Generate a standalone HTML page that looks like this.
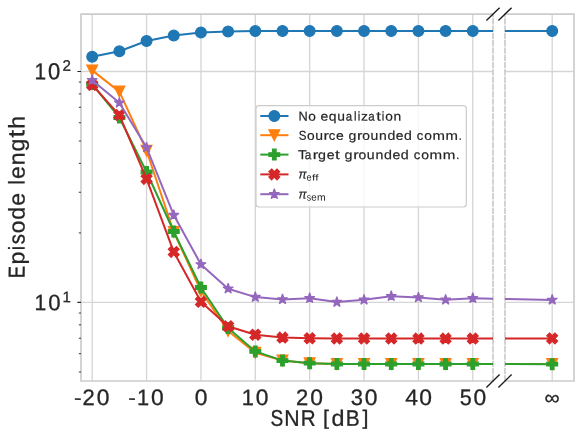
<!DOCTYPE html>
<html><head><meta charset="utf-8"><style>
html,body{margin:0;padding:0;background:#fff;width:582px;height:439px;overflow:hidden}
svg{display:block;font-family:"Liberation Sans",sans-serif;will-change:transform;text-rendering:geometricPrecision}
</style></head><body>
<svg width="582" height="439" viewBox="0 0 582 439">
<rect width="582" height="439" fill="#fff"/>
<defs><clipPath id="cl"><rect x="81.00" y="14.10" width="412.00" height="366.90"/></clipPath>
<clipPath id="cr"><rect x="505.00" y="14.10" width="69.00" height="366.90"/></clipPath></defs>
<path d="M92.20,14.1V381.0M146.57,14.1V381.0M200.94,14.1V381.0M255.31,14.1V381.0M309.68,14.1V381.0M364.05,14.1V381.0M418.42,14.1V381.0M472.79,14.1V381.0M81.0,302.45H493.0M81.0,71.50H493.0M552.2,14.1V381.0M505.0,302.45H574.0M505.0,71.50H574.0" stroke="#d5d5d5" stroke-width="1.3" fill="none"/>
<path d="M81.0,14.1H493.0M505.0,14.1H574.0M81.0,381.0H493.0M505.0,381.0H574.0M81.0,14.1V381.0M574.0,14.1V381.0" stroke="#cccccc" stroke-width="1.7" fill="none" stroke-linecap="square"/>
<path d="M493.0,381.0V14.1M505.0,381.0V14.1" stroke="#cccccc" stroke-width="1.7" stroke-dasharray="6.386 0.9" stroke-dashoffset="0.636" fill="none"/>
<path d="M77.40,302.45H81.0M77.40,71.50H81.0" stroke="#262626" stroke-width="1.2" fill="none"/>
<path d="M78.80,371.97H81.0M78.80,353.69H81.0M78.80,338.22H81.0M78.80,324.83H81.0M78.80,313.02H81.0M78.80,232.93H81.0M78.80,192.26H81.0M78.80,163.40H81.0M78.80,141.02H81.0M78.80,122.74H81.0M78.80,107.27H81.0M78.80,93.88H81.0M78.80,82.07H81.0" stroke="#262626" stroke-width="0.9" fill="none"/>
<g clip-path="url(#cl)">
<path d="M92.20,56.80L119.39,51.30L146.57,41.00L173.75,35.60L200.94,32.50L228.12,31.40L255.31,31.10L282.50,31.00L309.68,31.00L336.87,31.00L364.05,31.00L391.24,31.00L418.42,31.00L445.61,31.00L472.79,31.00L552.20,31.00" stroke="#1f77b4" stroke-width="2.0" fill="none" stroke-linejoin="round" stroke-linecap="butt"/>
<circle cx="92.20" cy="56.80" r="5.40" fill="#1f77b4" stroke="#1f77b4" stroke-width="1.2"/>
<circle cx="119.39" cy="51.30" r="5.40" fill="#1f77b4" stroke="#1f77b4" stroke-width="1.2"/>
<circle cx="146.57" cy="41.00" r="5.40" fill="#1f77b4" stroke="#1f77b4" stroke-width="1.2"/>
<circle cx="173.75" cy="35.60" r="5.40" fill="#1f77b4" stroke="#1f77b4" stroke-width="1.2"/>
<circle cx="200.94" cy="32.50" r="5.40" fill="#1f77b4" stroke="#1f77b4" stroke-width="1.2"/>
<circle cx="228.12" cy="31.40" r="5.40" fill="#1f77b4" stroke="#1f77b4" stroke-width="1.2"/>
<circle cx="255.31" cy="31.10" r="5.40" fill="#1f77b4" stroke="#1f77b4" stroke-width="1.2"/>
<circle cx="282.50" cy="31.00" r="5.40" fill="#1f77b4" stroke="#1f77b4" stroke-width="1.2"/>
<circle cx="309.68" cy="31.00" r="5.40" fill="#1f77b4" stroke="#1f77b4" stroke-width="1.2"/>
<circle cx="336.87" cy="31.00" r="5.40" fill="#1f77b4" stroke="#1f77b4" stroke-width="1.2"/>
<circle cx="364.05" cy="31.00" r="5.40" fill="#1f77b4" stroke="#1f77b4" stroke-width="1.2"/>
<circle cx="391.24" cy="31.00" r="5.40" fill="#1f77b4" stroke="#1f77b4" stroke-width="1.2"/>
<circle cx="418.42" cy="31.00" r="5.40" fill="#1f77b4" stroke="#1f77b4" stroke-width="1.2"/>
<circle cx="445.61" cy="31.00" r="5.40" fill="#1f77b4" stroke="#1f77b4" stroke-width="1.2"/>
<circle cx="472.79" cy="31.00" r="5.40" fill="#1f77b4" stroke="#1f77b4" stroke-width="1.2"/>
<circle cx="552.20" cy="31.00" r="5.40" fill="#1f77b4" stroke="#1f77b4" stroke-width="1.2"/>
<path d="M92.20,70.40L119.39,91.60L146.57,150.70L173.75,232.00L200.94,291.00L228.12,331.00L255.31,352.70L282.50,360.50L309.68,363.30L336.87,364.00L364.05,364.00L391.24,364.00L418.42,364.00L445.61,364.00L472.79,364.00L552.20,364.10" stroke="#ff7f0e" stroke-width="2.0" fill="none" stroke-linejoin="round" stroke-linecap="butt"/>
<path d="M86.80,65.00L97.60,65.00L92.20,75.80Z" fill="#ff7f0e" stroke="#ff7f0e" stroke-width="1.2" stroke-linejoin="miter"/>
<path d="M113.98,86.20L124.79,86.20L119.39,97.00Z" fill="#ff7f0e" stroke="#ff7f0e" stroke-width="1.2" stroke-linejoin="miter"/>
<path d="M141.17,145.30L151.97,145.30L146.57,156.10Z" fill="#ff7f0e" stroke="#ff7f0e" stroke-width="1.2" stroke-linejoin="miter"/>
<path d="M168.35,226.60L179.16,226.60L173.75,237.40Z" fill="#ff7f0e" stroke="#ff7f0e" stroke-width="1.2" stroke-linejoin="miter"/>
<path d="M195.54,285.60L206.34,285.60L200.94,296.40Z" fill="#ff7f0e" stroke="#ff7f0e" stroke-width="1.2" stroke-linejoin="miter"/>
<path d="M222.72,325.60L233.53,325.60L228.12,336.40Z" fill="#ff7f0e" stroke="#ff7f0e" stroke-width="1.2" stroke-linejoin="miter"/>
<path d="M249.91,347.30L260.71,347.30L255.31,358.10Z" fill="#ff7f0e" stroke="#ff7f0e" stroke-width="1.2" stroke-linejoin="miter"/>
<path d="M277.10,355.10L287.89,355.10L282.50,365.90Z" fill="#ff7f0e" stroke="#ff7f0e" stroke-width="1.2" stroke-linejoin="miter"/>
<path d="M304.28,357.90L315.08,357.90L309.68,368.70Z" fill="#ff7f0e" stroke="#ff7f0e" stroke-width="1.2" stroke-linejoin="miter"/>
<path d="M331.47,358.60L342.26,358.60L336.87,369.40Z" fill="#ff7f0e" stroke="#ff7f0e" stroke-width="1.2" stroke-linejoin="miter"/>
<path d="M358.65,358.60L369.45,358.60L364.05,369.40Z" fill="#ff7f0e" stroke="#ff7f0e" stroke-width="1.2" stroke-linejoin="miter"/>
<path d="M385.84,358.60L396.63,358.60L391.24,369.40Z" fill="#ff7f0e" stroke="#ff7f0e" stroke-width="1.2" stroke-linejoin="miter"/>
<path d="M413.02,358.60L423.82,358.60L418.42,369.40Z" fill="#ff7f0e" stroke="#ff7f0e" stroke-width="1.2" stroke-linejoin="miter"/>
<path d="M440.21,358.60L451.00,358.60L445.61,369.40Z" fill="#ff7f0e" stroke="#ff7f0e" stroke-width="1.2" stroke-linejoin="miter"/>
<path d="M467.39,358.60L478.19,358.60L472.79,369.40Z" fill="#ff7f0e" stroke="#ff7f0e" stroke-width="1.2" stroke-linejoin="miter"/>
<path d="M546.80,358.70L557.60,358.70L552.20,369.50Z" fill="#ff7f0e" stroke="#ff7f0e" stroke-width="1.2" stroke-linejoin="miter"/>
<path d="M92.20,84.00L119.39,117.50L146.57,172.00L173.75,231.50L200.94,287.50L228.12,328.00L255.31,351.40L282.50,360.60L309.68,363.20L336.87,364.00L364.05,364.00L391.24,364.00L418.42,364.00L445.61,364.00L472.79,364.00L552.20,364.20" stroke="#2ca02c" stroke-width="2.0" fill="none" stroke-linejoin="round" stroke-linecap="butt"/>
<path d="M90.40,78.60L94.00,78.60L94.00,82.20L97.60,82.20L97.60,85.80L94.00,85.80L94.00,89.40L90.40,89.40L90.40,85.80L86.80,85.80L86.80,82.20L90.40,82.20Z" fill="#2ca02c" stroke="#2ca02c" stroke-width="1.2"/>
<path d="M117.59,112.10L121.19,112.10L121.19,115.70L124.79,115.70L124.79,119.30L121.19,119.30L121.19,122.90L117.59,122.90L117.59,119.30L113.98,119.30L113.98,115.70L117.59,115.70Z" fill="#2ca02c" stroke="#2ca02c" stroke-width="1.2"/>
<path d="M144.77,166.60L148.37,166.60L148.37,170.20L151.97,170.20L151.97,173.80L148.37,173.80L148.37,177.40L144.77,177.40L144.77,173.80L141.17,173.80L141.17,170.20L144.77,170.20Z" fill="#2ca02c" stroke="#2ca02c" stroke-width="1.2"/>
<path d="M171.95,226.10L175.56,226.10L175.56,229.70L179.16,229.70L179.16,233.30L175.56,233.30L175.56,236.90L171.95,236.90L171.95,233.30L168.35,233.30L168.35,229.70L171.95,229.70Z" fill="#2ca02c" stroke="#2ca02c" stroke-width="1.2"/>
<path d="M199.14,282.10L202.74,282.10L202.74,285.70L206.34,285.70L206.34,289.30L202.74,289.30L202.74,292.90L199.14,292.90L199.14,289.30L195.54,289.30L195.54,285.70L199.14,285.70Z" fill="#2ca02c" stroke="#2ca02c" stroke-width="1.2"/>
<path d="M226.32,322.60L229.93,322.60L229.93,326.20L233.53,326.20L233.53,329.80L229.93,329.80L229.93,333.40L226.32,333.40L226.32,329.80L222.72,329.80L222.72,326.20L226.32,326.20Z" fill="#2ca02c" stroke="#2ca02c" stroke-width="1.2"/>
<path d="M253.51,346.00L257.11,346.00L257.11,349.60L260.71,349.60L260.71,353.20L257.11,353.20L257.11,356.80L253.51,356.80L253.51,353.20L249.91,353.20L249.91,349.60L253.51,349.60Z" fill="#2ca02c" stroke="#2ca02c" stroke-width="1.2"/>
<path d="M280.69,355.20L284.30,355.20L284.30,358.80L287.89,358.80L287.89,362.40L284.30,362.40L284.30,366.00L280.69,366.00L280.69,362.40L277.10,362.40L277.10,358.80L280.69,358.80Z" fill="#2ca02c" stroke="#2ca02c" stroke-width="1.2"/>
<path d="M307.88,357.80L311.48,357.80L311.48,361.40L315.08,361.40L315.08,365.00L311.48,365.00L311.48,368.60L307.88,368.60L307.88,365.00L304.28,365.00L304.28,361.40L307.88,361.40Z" fill="#2ca02c" stroke="#2ca02c" stroke-width="1.2"/>
<path d="M335.06,358.60L338.67,358.60L338.67,362.20L342.26,362.20L342.26,365.80L338.67,365.80L338.67,369.40L335.06,369.40L335.06,365.80L331.47,365.80L331.47,362.20L335.06,362.20Z" fill="#2ca02c" stroke="#2ca02c" stroke-width="1.2"/>
<path d="M362.25,358.60L365.85,358.60L365.85,362.20L369.45,362.20L369.45,365.80L365.85,365.80L365.85,369.40L362.25,369.40L362.25,365.80L358.65,365.80L358.65,362.20L362.25,362.20Z" fill="#2ca02c" stroke="#2ca02c" stroke-width="1.2"/>
<path d="M389.44,358.60L393.04,358.60L393.04,362.20L396.63,362.20L396.63,365.80L393.04,365.80L393.04,369.40L389.44,369.40L389.44,365.80L385.84,365.80L385.84,362.20L389.44,362.20Z" fill="#2ca02c" stroke="#2ca02c" stroke-width="1.2"/>
<path d="M416.62,358.60L420.22,358.60L420.22,362.20L423.82,362.20L423.82,365.80L420.22,365.80L420.22,369.40L416.62,369.40L416.62,365.80L413.02,365.80L413.02,362.20L416.62,362.20Z" fill="#2ca02c" stroke="#2ca02c" stroke-width="1.2"/>
<path d="M443.81,358.60L447.41,358.60L447.41,362.20L451.00,362.20L451.00,365.80L447.41,365.80L447.41,369.40L443.81,369.40L443.81,365.80L440.21,365.80L440.21,362.20L443.81,362.20Z" fill="#2ca02c" stroke="#2ca02c" stroke-width="1.2"/>
<path d="M470.99,358.60L474.59,358.60L474.59,362.20L478.19,362.20L478.19,365.80L474.59,365.80L474.59,369.40L470.99,369.40L470.99,365.80L467.39,365.80L467.39,362.20L470.99,362.20Z" fill="#2ca02c" stroke="#2ca02c" stroke-width="1.2"/>
<path d="M550.40,358.80L554.00,358.80L554.00,362.40L557.60,362.40L557.60,366.00L554.00,366.00L554.00,369.60L550.40,369.60L550.40,366.00L546.80,366.00L546.80,362.40L550.40,362.40Z" fill="#2ca02c" stroke="#2ca02c" stroke-width="1.2"/>
<path d="M92.20,84.90L119.39,115.10L146.57,178.90L173.75,251.90L200.94,301.80L228.12,326.30L255.31,334.70L282.50,337.60L309.68,338.30L336.87,338.50L364.05,338.50L391.24,338.50L418.42,338.60L445.61,338.60L472.79,338.60L552.20,338.40" stroke="#d62728" stroke-width="2.0" fill="none" stroke-linejoin="round" stroke-linecap="butt"/>
<path d="M89.50,79.50L92.20,82.20L94.90,79.50L97.60,82.20L94.90,84.90L97.60,87.60L94.90,90.30L92.20,87.60L89.50,90.30L86.80,87.60L89.50,84.90L86.80,82.20Z" fill="#d62728" stroke="#d62728" stroke-width="1.2"/>
<path d="M116.69,109.70L119.39,112.40L122.09,109.70L124.79,112.40L122.09,115.10L124.79,117.80L122.09,120.50L119.39,117.80L116.69,120.50L113.98,117.80L116.69,115.10L113.98,112.40Z" fill="#d62728" stroke="#d62728" stroke-width="1.2"/>
<path d="M143.87,173.50L146.57,176.20L149.27,173.50L151.97,176.20L149.27,178.90L151.97,181.60L149.27,184.30L146.57,181.60L143.87,184.30L141.17,181.60L143.87,178.90L141.17,176.20Z" fill="#d62728" stroke="#d62728" stroke-width="1.2"/>
<path d="M171.06,246.50L173.75,249.20L176.45,246.50L179.16,249.20L176.45,251.90L179.16,254.60L176.45,257.30L173.75,254.60L171.06,257.30L168.35,254.60L171.06,251.90L168.35,249.20Z" fill="#d62728" stroke="#d62728" stroke-width="1.2"/>
<path d="M198.24,296.40L200.94,299.10L203.64,296.40L206.34,299.10L203.64,301.80L206.34,304.50L203.64,307.20L200.94,304.50L198.24,307.20L195.54,304.50L198.24,301.80L195.54,299.10Z" fill="#d62728" stroke="#d62728" stroke-width="1.2"/>
<path d="M225.43,320.90L228.12,323.60L230.82,320.90L233.53,323.60L230.82,326.30L233.53,329.00L230.82,331.70L228.12,329.00L225.43,331.70L222.72,329.00L225.43,326.30L222.72,323.60Z" fill="#d62728" stroke="#d62728" stroke-width="1.2"/>
<path d="M252.61,329.30L255.31,332.00L258.01,329.30L260.71,332.00L258.01,334.70L260.71,337.40L258.01,340.10L255.31,337.40L252.61,340.10L249.91,337.40L252.61,334.70L249.91,332.00Z" fill="#d62728" stroke="#d62728" stroke-width="1.2"/>
<path d="M279.80,332.20L282.50,334.90L285.19,332.20L287.89,334.90L285.19,337.60L287.89,340.30L285.19,343.00L282.50,340.30L279.80,343.00L277.10,340.30L279.80,337.60L277.10,334.90Z" fill="#d62728" stroke="#d62728" stroke-width="1.2"/>
<path d="M306.98,332.90L309.68,335.60L312.38,332.90L315.08,335.60L312.38,338.30L315.08,341.00L312.38,343.70L309.68,341.00L306.98,343.70L304.28,341.00L306.98,338.30L304.28,335.60Z" fill="#d62728" stroke="#d62728" stroke-width="1.2"/>
<path d="M334.17,333.10L336.87,335.80L339.56,333.10L342.26,335.80L339.56,338.50L342.26,341.20L339.56,343.90L336.87,341.20L334.17,343.90L331.47,341.20L334.17,338.50L331.47,335.80Z" fill="#d62728" stroke="#d62728" stroke-width="1.2"/>
<path d="M361.35,333.10L364.05,335.80L366.75,333.10L369.45,335.80L366.75,338.50L369.45,341.20L366.75,343.90L364.05,341.20L361.35,343.90L358.65,341.20L361.35,338.50L358.65,335.80Z" fill="#d62728" stroke="#d62728" stroke-width="1.2"/>
<path d="M388.54,333.10L391.24,335.80L393.94,333.10L396.63,335.80L393.94,338.50L396.63,341.20L393.94,343.90L391.24,341.20L388.54,343.90L385.84,341.20L388.54,338.50L385.84,335.80Z" fill="#d62728" stroke="#d62728" stroke-width="1.2"/>
<path d="M415.72,333.20L418.42,335.90L421.12,333.20L423.82,335.90L421.12,338.60L423.82,341.30L421.12,344.00L418.42,341.30L415.72,344.00L413.02,341.30L415.72,338.60L413.02,335.90Z" fill="#d62728" stroke="#d62728" stroke-width="1.2"/>
<path d="M442.91,333.20L445.61,335.90L448.31,333.20L451.00,335.90L448.31,338.60L451.00,341.30L448.31,344.00L445.61,341.30L442.91,344.00L440.21,341.30L442.91,338.60L440.21,335.90Z" fill="#d62728" stroke="#d62728" stroke-width="1.2"/>
<path d="M470.09,333.20L472.79,335.90L475.49,333.20L478.19,335.90L475.49,338.60L478.19,341.30L475.49,344.00L472.79,341.30L470.09,344.00L467.39,341.30L470.09,338.60L467.39,335.90Z" fill="#d62728" stroke="#d62728" stroke-width="1.2"/>
<path d="M549.50,333.00L552.20,335.70L554.90,333.00L557.60,335.70L554.90,338.40L557.60,341.10L554.90,343.80L552.20,341.10L549.50,343.80L546.80,341.10L549.50,338.40L546.80,335.70Z" fill="#d62728" stroke="#d62728" stroke-width="1.2"/>
<path d="M92.20,80.20L119.39,102.80L146.57,147.50L173.75,215.10L200.94,264.40L228.12,288.70L255.31,297.10L282.50,299.40L309.68,298.20L336.87,302.10L364.05,299.80L391.24,296.20L418.42,297.50L445.61,299.80L472.79,298.20L552.20,299.90" stroke="#9467bd" stroke-width="2.0" fill="none" stroke-linejoin="round" stroke-linecap="butt"/>
<path d="M92.20,74.80L90.99,78.53L87.06,78.53L90.24,80.84L89.03,84.57L92.20,82.26L95.37,84.57L94.16,80.84L97.34,78.53L93.41,78.53Z" fill="#9467bd" stroke="#9467bd" stroke-width="1.2" stroke-linejoin="bevel"/>
<path d="M119.39,97.40L118.17,101.13L114.25,101.13L117.42,103.44L116.21,107.17L119.39,104.86L122.56,107.17L121.35,103.44L124.52,101.13L120.60,101.13Z" fill="#9467bd" stroke="#9467bd" stroke-width="1.2" stroke-linejoin="bevel"/>
<path d="M146.57,142.10L145.36,145.83L141.43,145.83L144.61,148.14L143.40,151.87L146.57,149.56L149.74,151.87L148.53,148.14L151.71,145.83L147.78,145.83Z" fill="#9467bd" stroke="#9467bd" stroke-width="1.2" stroke-linejoin="bevel"/>
<path d="M173.75,209.70L172.54,213.43L168.62,213.43L171.79,215.74L170.58,219.47L173.75,217.16L176.93,219.47L175.72,215.74L178.89,213.43L174.97,213.43Z" fill="#9467bd" stroke="#9467bd" stroke-width="1.2" stroke-linejoin="bevel"/>
<path d="M200.94,259.00L199.73,262.73L195.80,262.73L198.98,265.04L197.77,268.77L200.94,266.46L204.11,268.77L202.90,265.04L206.08,262.73L202.15,262.73Z" fill="#9467bd" stroke="#9467bd" stroke-width="1.2" stroke-linejoin="bevel"/>
<path d="M228.12,283.30L226.91,287.03L222.99,287.03L226.16,289.34L224.95,293.07L228.12,290.76L231.30,293.07L230.09,289.34L233.26,287.03L229.34,287.03Z" fill="#9467bd" stroke="#9467bd" stroke-width="1.2" stroke-linejoin="bevel"/>
<path d="M255.31,291.70L254.10,295.43L250.17,295.43L253.35,297.74L252.14,301.47L255.31,299.16L258.48,301.47L257.27,297.74L260.45,295.43L256.52,295.43Z" fill="#9467bd" stroke="#9467bd" stroke-width="1.2" stroke-linejoin="bevel"/>
<path d="M282.50,294.00L281.28,297.73L277.36,297.73L280.53,300.04L279.32,303.77L282.50,301.46L285.67,303.77L284.46,300.04L287.63,297.73L283.71,297.73Z" fill="#9467bd" stroke="#9467bd" stroke-width="1.2" stroke-linejoin="bevel"/>
<path d="M309.68,292.80L308.47,296.53L304.54,296.53L307.72,298.84L306.51,302.57L309.68,300.26L312.85,302.57L311.64,298.84L314.82,296.53L310.89,296.53Z" fill="#9467bd" stroke="#9467bd" stroke-width="1.2" stroke-linejoin="bevel"/>
<path d="M336.87,296.70L335.65,300.43L331.73,300.43L334.90,302.74L333.69,306.47L336.87,304.16L340.04,306.47L338.83,302.74L342.00,300.43L338.08,300.43Z" fill="#9467bd" stroke="#9467bd" stroke-width="1.2" stroke-linejoin="bevel"/>
<path d="M364.05,294.40L362.84,298.13L358.91,298.13L362.09,300.44L360.88,304.17L364.05,301.86L367.22,304.17L366.01,300.44L369.19,298.13L365.26,298.13Z" fill="#9467bd" stroke="#9467bd" stroke-width="1.2" stroke-linejoin="bevel"/>
<path d="M391.24,290.80L390.02,294.53L386.10,294.53L389.27,296.84L388.06,300.57L391.24,298.26L394.41,300.57L393.20,296.84L396.37,294.53L392.45,294.53Z" fill="#9467bd" stroke="#9467bd" stroke-width="1.2" stroke-linejoin="bevel"/>
<path d="M418.42,292.10L417.21,295.83L413.28,295.83L416.46,298.14L415.25,301.87L418.42,299.56L421.59,301.87L420.38,298.14L423.56,295.83L419.63,295.83Z" fill="#9467bd" stroke="#9467bd" stroke-width="1.2" stroke-linejoin="bevel"/>
<path d="M445.61,294.40L444.39,298.13L440.47,298.13L443.64,300.44L442.43,304.17L445.61,301.86L448.78,304.17L447.57,300.44L450.74,298.13L446.82,298.13Z" fill="#9467bd" stroke="#9467bd" stroke-width="1.2" stroke-linejoin="bevel"/>
<path d="M472.79,292.80L471.58,296.53L467.65,296.53L470.83,298.84L469.62,302.57L472.79,300.26L475.96,302.57L474.75,298.84L477.93,296.53L474.00,296.53Z" fill="#9467bd" stroke="#9467bd" stroke-width="1.2" stroke-linejoin="bevel"/>
<path d="M552.20,294.50L550.99,298.23L547.06,298.23L550.24,300.54L549.03,304.27L552.20,301.96L555.37,304.27L554.16,300.54L557.34,298.23L553.41,298.23Z" fill="#9467bd" stroke="#9467bd" stroke-width="1.2" stroke-linejoin="bevel"/>
</g>
<g clip-path="url(#cr)">
<path d="M472.79,31.00L552.20,31.00" stroke="#1f77b4" stroke-width="2.0" fill="none" stroke-linejoin="round" stroke-linecap="butt"/>
<circle cx="552.20" cy="31.00" r="5.40" fill="#1f77b4" stroke="#1f77b4" stroke-width="1.2"/>
<path d="M472.79,364.00L552.20,364.10" stroke="#ff7f0e" stroke-width="2.0" fill="none" stroke-linejoin="round" stroke-linecap="butt"/>
<path d="M546.80,358.70L557.60,358.70L552.20,369.50Z" fill="#ff7f0e" stroke="#ff7f0e" stroke-width="1.2" stroke-linejoin="miter"/>
<path d="M472.79,364.00L552.20,364.20" stroke="#2ca02c" stroke-width="2.0" fill="none" stroke-linejoin="round" stroke-linecap="butt"/>
<path d="M550.40,358.80L554.00,358.80L554.00,362.40L557.60,362.40L557.60,366.00L554.00,366.00L554.00,369.60L550.40,369.60L550.40,366.00L546.80,366.00L546.80,362.40L550.40,362.40Z" fill="#2ca02c" stroke="#2ca02c" stroke-width="1.2"/>
<path d="M472.79,338.60L552.20,338.40" stroke="#d62728" stroke-width="2.0" fill="none" stroke-linejoin="round" stroke-linecap="butt"/>
<path d="M549.50,333.00L552.20,335.70L554.90,333.00L557.60,335.70L554.90,338.40L557.60,341.10L554.90,343.80L552.20,341.10L549.50,343.80L546.80,341.10L549.50,338.40L546.80,335.70Z" fill="#d62728" stroke="#d62728" stroke-width="1.2"/>
<path d="M472.79,298.20L552.20,299.90" stroke="#9467bd" stroke-width="2.0" fill="none" stroke-linejoin="round" stroke-linecap="butt"/>
<path d="M552.20,294.50L550.99,298.23L547.06,298.23L550.24,300.54L549.03,304.27L552.20,301.96L555.37,304.27L554.16,300.54L557.34,298.23L553.41,298.23Z" fill="#9467bd" stroke="#9467bd" stroke-width="1.2" stroke-linejoin="bevel"/>
</g>
<path d="M486.40,20.50L499.60,7.70" stroke="#1a1a1a" stroke-width="1.35"/>
<path d="M486.40,387.40L499.60,374.60" stroke="#1a1a1a" stroke-width="1.35"/>
<path d="M498.40,20.50L511.60,7.70" stroke="#1a1a1a" stroke-width="1.35"/>
<path d="M498.40,387.40L511.60,374.60" stroke="#1a1a1a" stroke-width="1.35"/>
<rect x="256.0" y="105.7" width="210.30" height="101.30" rx="3" ry="3" fill="#fff" fill-opacity="0.8" stroke="#cccccc" stroke-width="1.2"/>
<path d="M260.3,116.0H288.5" stroke="#1f77b4" stroke-width="2.0"/>
<circle cx="274.30" cy="116.00" r="5.40" fill="#1f77b4" stroke="#1f77b4" stroke-width="1.2"/>
<path d="M260.3,135.2H288.5" stroke="#ff7f0e" stroke-width="2.0"/>
<path d="M268.90,129.80L279.70,129.80L274.30,140.60Z" fill="#ff7f0e" stroke="#ff7f0e" stroke-width="1.2" stroke-linejoin="miter"/>
<path d="M260.3,154.6H288.5" stroke="#2ca02c" stroke-width="2.0"/>
<path d="M272.50,149.20L276.10,149.20L276.10,152.80L279.70,152.80L279.70,156.40L276.10,156.40L276.10,160.00L272.50,160.00L272.50,156.40L268.90,156.40L268.90,152.80L272.50,152.80Z" fill="#2ca02c" stroke="#2ca02c" stroke-width="1.2"/>
<path d="M260.3,174.4H288.5" stroke="#d62728" stroke-width="2.0"/>
<path d="M271.60,169.00L274.30,171.70L277.00,169.00L279.70,171.70L277.00,174.40L279.70,177.10L277.00,179.80L274.30,177.10L271.60,179.80L268.90,177.10L271.60,174.40L268.90,171.70Z" fill="#d62728" stroke="#d62728" stroke-width="1.2"/>
<path d="M260.3,194.2H288.5" stroke="#9467bd" stroke-width="2.0"/>
<path d="M274.30,188.80L273.09,192.53L269.16,192.53L272.34,194.84L271.13,198.57L274.30,196.26L277.47,198.57L276.26,194.84L279.44,192.53L275.51,192.53Z" fill="#9467bd" stroke="#9467bd" stroke-width="1.2" stroke-linejoin="bevel"/>
<text transform="matrix(0.228106 0.003 0 0.182497 74.060 404.039)" font-size="100" fill="#262626" stroke="#262626" stroke-width="1.461">-</text>
<text transform="matrix(0.220000 0.003 0 0.224776 82.558 404.911)" font-size="100" fill="#262626" stroke="#262626" stroke-width="1.349">2</text>
<text transform="matrix(0.228797 0.003 0 0.225986 96.796 404.996)" font-size="100" fill="#262626" stroke="#262626" stroke-width="1.319">0</text>
<text transform="matrix(0.228106 0.003 0 0.182497 128.360 404.039)" font-size="100" fill="#262626" stroke="#262626" stroke-width="1.461">-</text>
<text transform="matrix(0.217557 0.003 0 0.223997 137.124 404.907)" font-size="100" fill="#262626" stroke="#262626" stroke-width="1.359">1</text>
<text transform="matrix(0.228797 0.003 0 0.225986 151.096 404.996)" font-size="100" fill="#262626" stroke="#262626" stroke-width="1.319">0</text>
<text transform="matrix(0.228797 0.003 0 0.225986 194.668 404.996)" font-size="100" fill="#262626" stroke="#262626" stroke-width="1.319">0</text>
<text transform="matrix(0.217557 0.003 0 0.223997 241.770 404.907)" font-size="100" fill="#262626" stroke="#262626" stroke-width="1.359">1</text>
<text transform="matrix(0.228797 0.003 0 0.225986 255.742 404.996)" font-size="100" fill="#262626" stroke="#262626" stroke-width="1.319">0</text>
<text transform="matrix(0.220000 0.003 0 0.224776 296.013 404.911)" font-size="100" fill="#262626" stroke="#262626" stroke-width="1.349">2</text>
<text transform="matrix(0.228797 0.003 0 0.225986 310.250 404.996)" font-size="100" fill="#262626" stroke="#262626" stroke-width="1.319">0</text>
<text transform="matrix(0.219428 0.003 0 0.225986 350.766 404.997)" font-size="100" fill="#262626" stroke="#262626" stroke-width="1.347">3</text>
<text transform="matrix(0.228797 0.003 0 0.225986 364.667 404.996)" font-size="100" fill="#262626" stroke="#262626" stroke-width="1.319">0</text>
<text transform="matrix(0.229147 0.003 0 0.223997 405.171 404.912)" font-size="100" fill="#262626" stroke="#262626" stroke-width="1.324">4</text>
<text transform="matrix(0.228797 0.003 0 0.225986 419.372 404.996)" font-size="100" fill="#262626" stroke="#262626" stroke-width="1.319">0</text>
<text transform="matrix(0.215524 0.003 0 0.225235 459.700 404.997)" font-size="100" fill="#262626" stroke="#262626" stroke-width="1.361">5</text>
<text transform="matrix(0.228797 0.003 0 0.225986 473.606 404.996)" font-size="100" fill="#262626" stroke="#262626" stroke-width="1.319">0</text>
<text transform="matrix(0.212603 0.003 0 0.199549 544.397 404.171)" font-size="100" fill="#262626" stroke="#262626" stroke-width="1.456">∞</text>
<text transform="matrix(0.208877 0.003 0 0.231002 34.609 79.198)" font-size="100" fill="#262626" stroke="#262626" stroke-width="1.364">1</text>
<text transform="matrix(0.219709 0.003 0 0.233048 48.039 79.289)" font-size="100" fill="#262626" stroke="#262626" stroke-width="1.325">0</text>
<text transform="matrix(0.151460 0.003 0 0.154674 62.538 70.717)" font-size="100" fill="#262626" stroke="#262626" stroke-width="1.960">2</text>
<text transform="matrix(0.210714 0.003 0 0.221195 34.595 310.111)" font-size="100" fill="#262626" stroke="#262626" stroke-width="1.389">1</text>
<text transform="matrix(0.221632 0.003 0 0.223161 48.140 310.199)" font-size="100" fill="#262626" stroke="#262626" stroke-width="1.349">0</text>
<text transform="matrix(0.150759 0.003 0 0.151165 62.552 301.912)" font-size="100" fill="#262626" stroke="#262626" stroke-width="1.987">1</text>
<text transform="matrix(0.191553 0.003 0 0.227606 270.430 425.824)" font-size="100" fill="#262626" stroke="#262626" stroke-width="1.431">S</text>
<text transform="matrix(0.212656 0.003 0 0.225603 284.278 425.730)" font-size="100" fill="#262626" stroke="#262626" stroke-width="1.369">N</text>
<text transform="matrix(0.206054 0.003 0 0.225603 300.843 425.725)" font-size="100" fill="#262626" stroke="#262626" stroke-width="1.390">R</text>
<text transform="matrix(0.214851 0.003 0 0.204371 323.086 424.408)" font-size="100" fill="#262626" stroke="#262626" stroke-width="1.431">[</text>
<text transform="matrix(0.233229 0.003 0 0.224628 331.570 425.847)" font-size="100" fill="#262626" stroke="#262626" stroke-width="1.310">d</text>
<text transform="matrix(0.208813 0.003 0 0.225603 345.796 425.734)" font-size="100" fill="#262626" stroke="#262626" stroke-width="1.381">B</text>
<text transform="matrix(0.214851 0.003 0 0.204371 362.462 424.427)" font-size="100" fill="#262626" stroke="#262626" stroke-width="1.431">]</text>
<text transform="matrix(0.003 -0.185264 0.229948 0 24.394 278.220)" font-size="100" fill="#262626" stroke="#262626" stroke-width="1.445">E</text>
<text transform="matrix(0.003 -0.232844 0.223910 0 24.367 264.452)" font-size="100" fill="#262626" stroke="#262626" stroke-width="1.314">p</text>
<text transform="matrix(0.003 -0.190912 0.227714 0 24.467 250.179)" font-size="100" fill="#262626" stroke="#262626" stroke-width="1.433">i</text>
<text transform="matrix(0.003 -0.204151 0.226899 0 24.518 244.235)" font-size="100" fill="#262626" stroke="#262626" stroke-width="1.392">s</text>
<text transform="matrix(0.003 -0.227687 0.226293 0 24.509 233.131)" font-size="100" fill="#262626" stroke="#262626" stroke-width="1.322">o</text>
<text transform="matrix(0.003 -0.232605 0.228950 0 24.510 219.682)" font-size="100" fill="#262626" stroke="#262626" stroke-width="1.300">d</text>
<text transform="matrix(0.003 -0.231399 0.226293 0 24.509 205.714)" font-size="100" fill="#262626" stroke="#262626" stroke-width="1.311">e</text>
<text transform="matrix(0.003 -0.190912 0.227714 0 24.467 184.615)" font-size="100" fill="#262626" stroke="#262626" stroke-width="1.433">l</text>
<text transform="matrix(0.003 -0.231399 0.226293 0 24.509 179.055)" font-size="100" fill="#262626" stroke="#262626" stroke-width="1.311">e</text>
<text transform="matrix(0.003 -0.230298 0.224580 0 24.417 165.272)" font-size="100" fill="#262626" stroke="#262626" stroke-width="1.319">n</text>
<text transform="matrix(0.003 -0.232605 0.224204 0 24.367 151.551)" font-size="100" fill="#262626" stroke="#262626" stroke-width="1.313">g</text>
<text transform="matrix(0.003 -0.282491 0.232713 0 24.276 137.651)" font-size="100" fill="#262626" stroke="#262626" stroke-width="1.165">t</text>
<text transform="matrix(0.003 -0.231897 0.227714 0 24.416 128.791)" font-size="100" fill="#262626" stroke="#262626" stroke-width="1.305">h</text>
<text transform="matrix(0.127686 0.003 0 0.128485 298.403 120.442)" font-size="100" fill="#262626" stroke="#262626" stroke-width="1.561">N</text>
<text transform="matrix(0.137040 0.003 0 0.126317 308.245 120.519)" font-size="100" fill="#262626" stroke="#262626" stroke-width="1.519">o</text>
<text transform="matrix(0.139279 0.003 0 0.126317 320.583 120.519)" font-size="100" fill="#262626" stroke="#262626" stroke-width="1.506">e</text>
<text transform="matrix(0.139837 0.003 0 0.125053 328.764 120.454)" font-size="100" fill="#262626" stroke="#262626" stroke-width="1.510">q</text>
<text transform="matrix(0.138572 0.003 0 0.128610 337.282 120.517)" font-size="100" fill="#262626" stroke="#262626" stroke-width="1.497">u</text>
<text transform="matrix(0.115609 0.003 0 0.126317 345.783 120.512)" font-size="100" fill="#262626" stroke="#262626" stroke-width="1.653">a</text>
<text transform="matrix(0.113091 0.003 0 0.127256 354.110 120.517)" font-size="100" fill="#262626" stroke="#262626" stroke-width="1.664">l</text>
<text transform="matrix(0.113091 0.003 0 0.127256 357.808 120.517)" font-size="100" fill="#262626" stroke="#262626" stroke-width="1.664">i</text>
<text transform="matrix(0.137515 0.003 0 0.124569 361.018 120.476)" font-size="100" fill="#262626" stroke="#262626" stroke-width="1.526">z</text>
<text transform="matrix(0.115609 0.003 0 0.126317 368.286 120.512)" font-size="100" fill="#262626" stroke="#262626" stroke-width="1.653">a</text>
<text transform="matrix(0.169782 0.003 0 0.130012 376.223 120.406)" font-size="100" fill="#262626" stroke="#262626" stroke-width="1.334">t</text>
<text transform="matrix(0.113091 0.003 0 0.127256 381.829 120.517)" font-size="100" fill="#262626" stroke="#262626" stroke-width="1.664">i</text>
<text transform="matrix(0.137040 0.003 0 0.126317 385.184 120.519)" font-size="100" fill="#262626" stroke="#262626" stroke-width="1.519">o</text>
<text transform="matrix(0.138572 0.003 0 0.125347 393.443 120.466)" font-size="100" fill="#262626" stroke="#262626" stroke-width="1.516">n</text>
<text transform="matrix(0.115680 0.003 0 0.129641 298.625 139.749)" font-size="100" fill="#262626" stroke="#262626" stroke-width="1.631">S</text>
<text transform="matrix(0.137862 0.003 0 0.126317 306.912 139.769)" font-size="100" fill="#262626" stroke="#262626" stroke-width="1.514">o</text>
<text transform="matrix(0.139405 0.003 0 0.128610 315.162 139.767)" font-size="100" fill="#262626" stroke="#262626" stroke-width="1.492">u</text>
<text transform="matrix(0.163259 0.003 0 0.125347 323.533 139.743)" font-size="100" fill="#262626" stroke="#262626" stroke-width="1.386">r</text>
<text transform="matrix(0.129481 0.003 0 0.126317 328.792 139.775)" font-size="100" fill="#262626" stroke="#262626" stroke-width="1.564">c</text>
<text transform="matrix(0.140113 0.003 0 0.126317 336.096 139.769)" font-size="100" fill="#262626" stroke="#262626" stroke-width="1.501">e</text>
<text transform="matrix(0.140829 0.003 0 0.125299 348.572 139.699)" font-size="100" fill="#262626" stroke="#262626" stroke-width="1.503">g</text>
<text transform="matrix(0.163259 0.003 0 0.125347 357.041 139.743)" font-size="100" fill="#262626" stroke="#262626" stroke-width="1.386">r</text>
<text transform="matrix(0.137862 0.003 0 0.126317 362.271 139.769)" font-size="100" fill="#262626" stroke="#262626" stroke-width="1.514">o</text>
<text transform="matrix(0.139405 0.003 0 0.128610 370.521 139.767)" font-size="100" fill="#262626" stroke="#262626" stroke-width="1.492">u</text>
<text transform="matrix(0.139405 0.003 0 0.125347 379.050 139.716)" font-size="100" fill="#262626" stroke="#262626" stroke-width="1.511">n</text>
<text transform="matrix(0.140829 0.003 0 0.127955 387.380 139.771)" font-size="100" fill="#262626" stroke="#262626" stroke-width="1.488">d</text>
<text transform="matrix(0.140113 0.003 0 0.126317 395.861 139.769)" font-size="100" fill="#262626" stroke="#262626" stroke-width="1.501">e</text>
<text transform="matrix(0.140829 0.003 0 0.127955 404.088 139.771)" font-size="100" fill="#262626" stroke="#262626" stroke-width="1.488">d</text>
<text transform="matrix(0.129481 0.003 0 0.126317 416.863 139.775)" font-size="100" fill="#262626" stroke="#262626" stroke-width="1.564">c</text>
<text transform="matrix(0.137862 0.003 0 0.126317 424.183 139.769)" font-size="100" fill="#262626" stroke="#262626" stroke-width="1.514">o</text>
<text transform="matrix(0.149441 0.003 0 0.125347 432.424 139.675)" font-size="100" fill="#262626" stroke="#262626" stroke-width="1.456">m</text>
<text transform="matrix(0.149441 0.003 0 0.125347 445.444 139.675)" font-size="100" fill="#262626" stroke="#262626" stroke-width="1.456">m</text>
<text transform="matrix(0.123628 0.003 0 0.125114 458.544 139.758)" font-size="100" fill="#262626" stroke="#262626" stroke-width="1.608">.</text>
<text transform="matrix(0.144031 0.003 0 0.128485 297.926 158.958)" font-size="100" fill="#262626" stroke="#262626" stroke-width="1.468">T</text>
<text transform="matrix(0.117774 0.003 0 0.126317 304.627 159.012)" font-size="100" fill="#262626" stroke="#262626" stroke-width="1.639">a</text>
<text transform="matrix(0.165353 0.003 0 0.125347 312.737 158.993)" font-size="100" fill="#262626" stroke="#262626" stroke-width="1.376">r</text>
<text transform="matrix(0.142605 0.003 0 0.125299 318.078 158.949)" font-size="100" fill="#262626" stroke="#262626" stroke-width="1.493">g</text>
<text transform="matrix(0.141879 0.003 0 0.126317 326.663 159.019)" font-size="100" fill="#262626" stroke="#262626" stroke-width="1.491">e</text>
<text transform="matrix(0.173000 0.003 0 0.130012 334.945 158.906)" font-size="100" fill="#262626" stroke="#262626" stroke-width="1.320">t</text>
<text transform="matrix(0.142605 0.003 0 0.125299 344.597 158.949)" font-size="100" fill="#262626" stroke="#262626" stroke-width="1.493">g</text>
<text transform="matrix(0.165353 0.003 0 0.125347 353.168 158.993)" font-size="100" fill="#262626" stroke="#262626" stroke-width="1.376">r</text>
<text transform="matrix(0.139599 0.003 0 0.126317 358.463 159.019)" font-size="100" fill="#262626" stroke="#262626" stroke-width="1.504">o</text>
<text transform="matrix(0.141167 0.003 0 0.128610 366.813 159.017)" font-size="100" fill="#262626" stroke="#262626" stroke-width="1.483">u</text>
<text transform="matrix(0.141167 0.003 0 0.125347 375.447 158.966)" font-size="100" fill="#262626" stroke="#262626" stroke-width="1.501">n</text>
<text transform="matrix(0.142605 0.003 0 0.127955 383.879 159.021)" font-size="100" fill="#262626" stroke="#262626" stroke-width="1.478">d</text>
<text transform="matrix(0.141879 0.003 0 0.126317 392.463 159.019)" font-size="100" fill="#262626" stroke="#262626" stroke-width="1.491">e</text>
<text transform="matrix(0.142605 0.003 0 0.127955 400.791 159.021)" font-size="100" fill="#262626" stroke="#262626" stroke-width="1.478">d</text>
<text transform="matrix(0.131121 0.003 0 0.126317 413.722 159.025)" font-size="100" fill="#262626" stroke="#262626" stroke-width="1.554">c</text>
<text transform="matrix(0.139599 0.003 0 0.126317 421.132 159.019)" font-size="100" fill="#262626" stroke="#262626" stroke-width="1.504">o</text>
<text transform="matrix(0.151303 0.003 0 0.125347 429.474 158.925)" font-size="100" fill="#262626" stroke="#262626" stroke-width="1.446">m</text>
<text transform="matrix(0.151303 0.003 0 0.125347 442.653 158.925)" font-size="100" fill="#262626" stroke="#262626" stroke-width="1.446">m</text>
<text transform="matrix(0.125397 0.003 0 0.125114 455.911 159.008)" font-size="100" fill="#262626" stroke="#262626" stroke-width="1.597">.</text>
<text transform="matrix(0.121756 0.003 0 0.133808 298.609 178.510)" font-size="100" fill="#262626" stroke="#262626" stroke-width="1.565" font-style="italic">π</text>
<text transform="matrix(0.091638 0.003 0 0.098567 306.561 180.471)" font-size="100" fill="#262626">e</text>
<text transform="matrix(0.120019 0.003 0 0.088443 312.080 180.406)" font-size="100" fill="#262626">f</text>
<text transform="matrix(0.120019 0.003 0 0.088443 315.298 180.406)" font-size="100" fill="#262626">f</text>
<text transform="matrix(0.121756 0.003 0 0.131020 298.609 198.413)" font-size="100" fill="#262626" stroke="#262626" stroke-width="1.582" font-style="italic">π</text>
<text transform="matrix(0.087532 0.003 0 0.100661 306.706 200.478)" font-size="100" fill="#262626">s</text>
<text transform="matrix(0.098632 0.003 0 0.100392 311.297 200.469)" font-size="100" fill="#262626">e</text>
<text transform="matrix(0.104042 0.003 0 0.099694 316.969 200.389)" font-size="100" fill="#262626">m</text>
</svg>
</body></html>
